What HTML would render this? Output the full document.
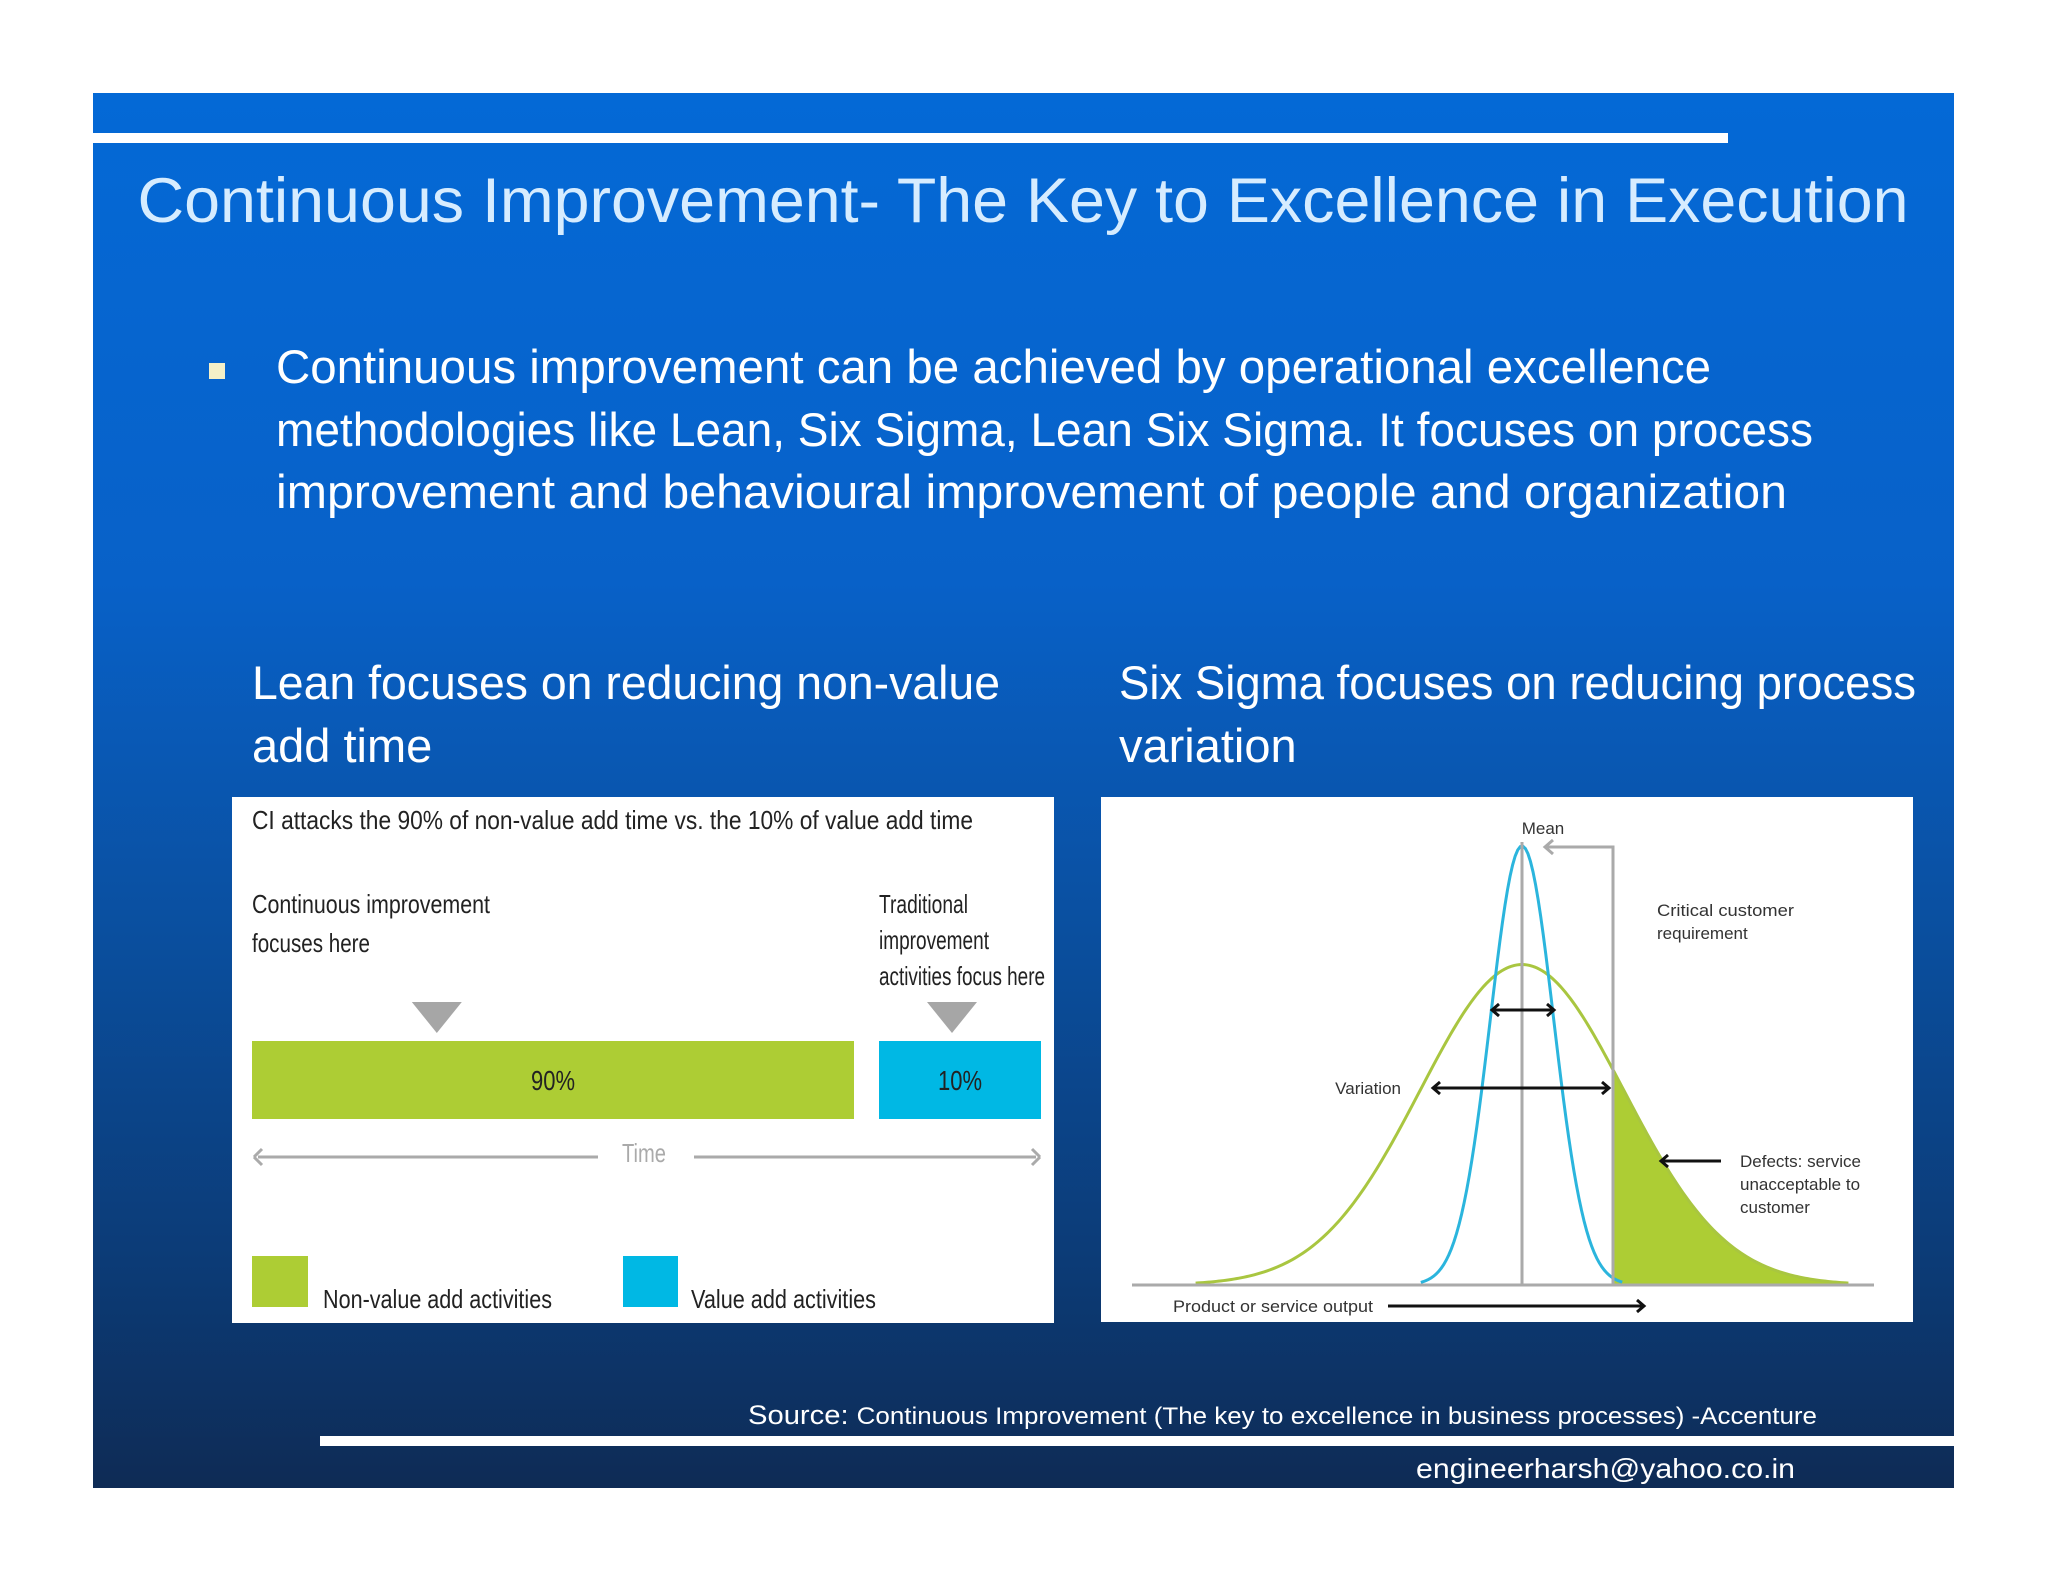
<!DOCTYPE html>
<html><head><meta charset="utf-8"><style>
html,body{margin:0;padding:0;background:#fff;}
svg{display:block;}
text{font-family:"Liberation Sans",sans-serif;}
</style></head><body>
<svg id="root" width="2048" height="1582" viewBox="0 0 2048 1582" xmlns="http://www.w3.org/2000/svg">
<defs>
<linearGradient id="bg" x1="0" y1="0" x2="0" y2="1">
<stop offset="0" stop-color="#0469d6"/><stop offset="0.35" stop-color="#0861c8"/>
<stop offset="0.6" stop-color="#0a4f9f"/><stop offset="0.85" stop-color="#0c3a74"/><stop offset="1" stop-color="#0e2b55"/>
</linearGradient>
</defs>
<rect x="93" y="93" width="1861" height="1395" fill="url(#bg)"/>
<rect x="93" y="133" width="1635" height="10" fill="#fff"/>
<text x="1023" y="222" text-anchor="middle" font-size="63" fill="#d6ecff" textLength="1771" lengthAdjust="spacingAndGlyphs">Continuous Improvement- The Key to Excellence in Execution</text>
<rect x="209" y="363" width="16" height="16" fill="#f4f0c8"/>
<g fill="#fff" font-size="47">
<text x="276" y="383" textLength="1435" lengthAdjust="spacingAndGlyphs">Continuous improvement can be achieved by operational excellence</text>
<text x="276" y="446" textLength="1537" lengthAdjust="spacingAndGlyphs">methodologies like  Lean, Six Sigma, Lean Six Sigma. It focuses on process</text>
<text x="276" y="508" textLength="1511" lengthAdjust="spacingAndGlyphs">improvement and behavioural improvement of people and organization</text>
</g>
<g fill="#fff" font-size="47">
<text x="252" y="699" textLength="748" lengthAdjust="spacingAndGlyphs">Lean focuses on reducing non-value</text>
<text x="252" y="762">add time</text>
<text x="1119" y="699" textLength="797" lengthAdjust="spacingAndGlyphs">Six Sigma focuses on reducing process</text>
<text x="1119" y="762">variation</text>
</g>
<!-- Left panel -->
<g>
<rect x="232" y="797" width="822" height="526" fill="#fff"/>
<text x="252" y="829" font-size="26" fill="#222" textLength="721" lengthAdjust="spacingAndGlyphs">CI attacks the 90% of non-value add time vs. the 10% of value add time</text>
<g font-size="26" fill="#222">
<text x="252" y="913" textLength="238" lengthAdjust="spacingAndGlyphs">Continuous improvement</text>
<text x="252" y="952" textLength="118" lengthAdjust="spacingAndGlyphs">focuses here</text>
<text x="879" y="913" textLength="89" lengthAdjust="spacingAndGlyphs">Traditional</text>
<text x="879" y="949" textLength="110" lengthAdjust="spacingAndGlyphs">improvement</text>
<text x="879" y="985" textLength="166" lengthAdjust="spacingAndGlyphs">activities focus here</text>
</g>
<g id="bars"></g>
<g stroke="#aaa" stroke-width="3" fill="#aaa">
<line x1="258" y1="1157" x2="598" y2="1157"/><line x1="694" y1="1157" x2="1036" y2="1157"/>
<path d="M254 1157 L262 1149 M254 1157 L262 1165 M1040 1157 L1032 1149 M1040 1157 L1032 1165" fill="none"/>
</g>
<text x="644" y="1162" font-size="26" fill="#aaa" text-anchor="middle" textLength="44" lengthAdjust="spacingAndGlyphs">Time</text>
<rect x="252" y="1256" width="56" height="51" fill="#adcd34"/>
<text x="323" y="1308" font-size="26" fill="#222" textLength="229" lengthAdjust="spacingAndGlyphs">Non-value add activities</text>
<rect x="623" y="1256" width="55" height="51" fill="#00b8e4"/>
<text x="691" y="1308" font-size="26" fill="#222" textLength="185" lengthAdjust="spacingAndGlyphs">Value add activities</text>
</g>
<!-- Right panel -->
<g>
<rect x="1101" y="797" width="812" height="525" fill="#fff"/>
<g id="curves"></g>
<line x1="1132" y1="1285" x2="1874" y2="1285" stroke="#aaa" stroke-width="3"/>
<line x1="1522" y1="842" x2="1522" y2="1285" stroke="#aaa" stroke-width="3"/>
<path d="M1613 1285 L1613 847 L1545 847 M1553 840 L1545 847 L1553 854" fill="none" stroke="#aaa" stroke-width="3"/>
<text x="1543" y="834" font-size="17" fill="#333" text-anchor="middle">Mean</text>
<text x="1657" y="916" font-size="17" fill="#333" textLength="137" lengthAdjust="spacingAndGlyphs">Critical customer</text>
<text x="1657" y="939" font-size="17" fill="#333">requirement</text>
<g stroke="#111" stroke-width="3" fill="none">
<path d="M1492 1010 L1554 1010 M1499 1004 L1492 1010 L1499 1016 M1547 1004 L1554 1010 L1547 1016"/>
<path d="M1433 1088 L1609 1088 M1440 1082 L1433 1088 L1440 1094 M1602 1082 L1609 1088 L1602 1094"/>
<path d="M1661 1161 L1721 1161 M1668 1155 L1661 1161 L1668 1167"/>
<path d="M1388 1306 L1644 1306 M1637 1300 L1644 1306 L1637 1312"/>
</g>
<text x="1401" y="1094" font-size="17" fill="#333" text-anchor="end">Variation</text>
<g font-size="17" fill="#333">
<text x="1740" y="1167">Defects: service</text>
<text x="1740" y="1190">unacceptable to</text>
<text x="1740" y="1213">customer</text>
</g>
<text x="1173" y="1312" font-size="17" fill="#333" textLength="200" lengthAdjust="spacingAndGlyphs">Product or service output</text>
</g>
<text x="748" y="1424" font-size="27" fill="#fff" textLength="1069" lengthAdjust="spacingAndGlyphs">Source: <tspan font-size="24">Continuous Improvement (The key to excellence in business processes) -Accenture</tspan></text>
<rect x="320" y="1436" width="1634" height="10" fill="#fff"/>
<text x="1416" y="1478" font-size="28" fill="#fff" textLength="379" lengthAdjust="spacingAndGlyphs">engineerharsh@yahoo.co.in</text>
</svg>
<script>
// Lean bar data
const barCategories = ["Non-value add", "Value add"];
const barValues = [90, 10];
const barColors = ["#adcd34", "#00b8e4"];
// Six Sigma distribution data (output units)
const curveNames = ["wide-process", "narrow-process"];
const curveMeans = [50, 50];
const curveSigmas = [10, 3.1];
const curvePeaks = [0.73, 1.0];
const specLimit = [59];

const NS = "http://www.w3.org/2000/svg";
// bar axis: minimum width plus proportional part
const bx0 = 252, gap = 25, minW = 107, perUnit = 5.5;
const bscale = v => minW + v * perUnit;
const barsG = document.getElementById('bars');
let cx = bx0;
barValues.forEach((v, i) => {
  const w = bscale(v);
  const r = document.createElementNS(NS, 'rect');
  r.setAttribute('x', cx); r.setAttribute('y', 1041); r.setAttribute('width', w); r.setAttribute('height', 78);
  r.setAttribute('fill', barColors[i]);
  
  
  barsG.appendChild(r);
  const t = document.createElementNS(NS, 'text');
  t.setAttribute('x', cx + w / 2); t.setAttribute('y', 1090); t.setAttribute('text-anchor', 'middle');
  t.setAttribute('font-size', '28'); t.setAttribute('fill', '#222');
  t.setAttribute('textLength', '44'); t.setAttribute('lengthAdjust', 'spacingAndGlyphs');
  t.textContent = v + '%';
  
  
  barsG.appendChild(t);
  const tri = document.createElementNS(NS, 'path');
  const tc = i === 0 ? cx + w * 0.307 : cx + w / 2 - 8;
  tri.setAttribute('d', `M${tc-25} 1002 L${tc+25} 1002 L${tc} 1033 Z`);
  tri.setAttribute('fill', '#a6a6a6');
  
  
  barsG.appendChild(tri);
  cx += w + gap;
});
// curve axes
const xs = v => 1522 + (v - 50) * 10.2;
const ys = d => 1285 - d * 439;
const curvesG = document.getElementById('curves');
function curvePts(i, lo, hi) {
  const pts = [];
  for (let v = lo; v <= hi + 1e-9; v += 0.25) {
    const d = curvePeaks[i] * Math.exp(-0.5 * Math.pow((v - curveMeans[i]) / curveSigmas[i], 2));
    pts.push([xs(v), ys(d)]);
  }
  return pts;
}
const sp = curvePts(0, specLimit[0], curveMeans[0] + 3.2 * curveSigmas[0]);
const area = document.createElementNS(NS, 'path');
area.setAttribute('d', 'M' + xs(specLimit[0]) + ' 1285 L' + sp.map(p => p.join(' ')).join(' L') + ' L' + sp[sp.length-1][0] + ' 1285 Z');
area.setAttribute('fill', '#adcd34');


curvesG.appendChild(area);
const colors = ["#a9c640", "#2bb5dd"];
curveNames.forEach((n, i) => {
  const k = 3.2;
  const pts = curvePts(i, curveMeans[i] - k * curveSigmas[i], curveMeans[i] + k * curveSigmas[i]);
  const p = document.createElementNS(NS, 'path');
  p.setAttribute('d', 'M' + pts.map(q => q.join(' ')).join(' L'));
  p.setAttribute('fill', 'none'); p.setAttribute('stroke', colors[i]); p.setAttribute('stroke-width', '3');
  
  
  curvesG.appendChild(p);
});
</script>
</body></html>
